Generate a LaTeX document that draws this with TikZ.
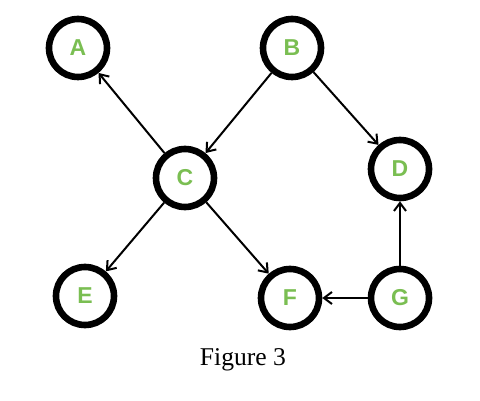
\documentclass[tikz,border=0pt]{standalone}
\usepackage{fontspec}
\setmainfont{Liberation Serif}
\newfontfamily\lettersf{Liberation Sans}
\usepackage{xcolor}
\usetikzlibrary{arrows.meta}
\definecolor{leafgreen}{RGB}{122,190,82}

\begin{document}
\begin{tikzpicture}[
  x=0.5pt, y=-0.5pt,
  vertex/.style={draw, circle, line width=3.3pt, minimum size=29pt, inner sep=0pt,
    font=\lettersf\bfseries\fontsize{11.5}{13}\selectfont, text=leafgreen},
  arr/.style={-{Straight Barb[length=4pt, width=6pt]}, line width=1pt}
]
\useasboundingbox (0,0) rectangle (480,400);
\node[vertex] (A) at (78,48) {A};
\node[vertex] (B) at (292,48) {B};
\node[vertex] (C) at (185,178) {C};
\node[vertex] (D) at (400,169) {D};
\node[vertex] (E) at (85,296) {E};
\node[vertex] (F) at (290,298) {F};
\node[vertex] (G) at (400,298) {G};
\node[font=\fontsize{12.8}{15}\selectfont] (cap) at (243,360) {Figure 3};
\draw[arr] (C) -- (A);
\draw[arr] (B) -- (C);
\draw[arr] (B) -- (D);
\draw[arr] (C) -- (E);
\draw[arr] (C) -- (F);
\draw[arr] (G) -- (F);
\draw[arr] (G) -- (D);
\end{tikzpicture}
\end{document}
